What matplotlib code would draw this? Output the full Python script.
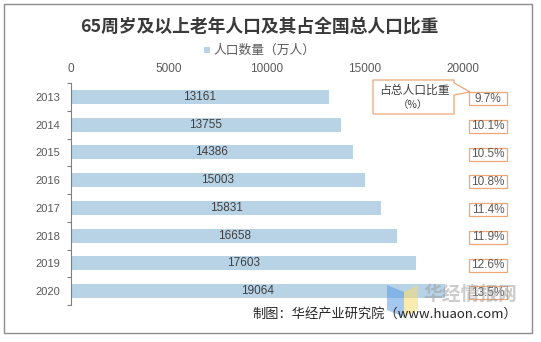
import matplotlib
matplotlib.use("Agg")
import matplotlib.pyplot as plt
from matplotlib.patches import Rectangle, Polygon
from matplotlib.transforms import blended_transform_factory

plt.rcParams['font.family'] = ['Noto Sans CJK SC', 'DejaVu Sans']

years = ['2013', '2014', '2015', '2016', '2017', '2018', '2019', '2020']
population = [13161, 13755, 14386, 15003, 15831, 16658, 17603, 19064]
share = ['9.7%', '10.1%', '10.5%', '10.8%', '11.4%', '11.9%', '12.6%', '13.5%']
x_ticks = [0, 5000, 10000, 15000, 20000]

W, H = 541, 342
BAR = '#B7D3E5'
ORANGE = '#EDA777'
GRAY = '#595959'
NUM_FONT = ['Liberation Sans', 'DejaVu Sans']

fig = plt.figure(figsize=(W / 100, H / 100), dpi=100)


def fx(px):
    return px / W


def fy(py):
    return 1 - py / H


# outer frame
fig.patches.append(Rectangle((fx(4), fy(333)), fx(528), 329 / H, transform=fig.transFigure,
                             fill=False, edgecolor='#8C8C8C', lw=1.0))

ax = fig.add_axes([fx(71), fy(305), fx(443.5), 222 / H])
ypos = list(range(len(years)))
ax.barh(ypos, population, height=0.5, color=BAR)
ax.set_xlim(0, 22630)
ax.set_ylim(len(years) - 0.5, -0.5)

# x axis on top, labels only
ax.xaxis.tick_top()
ax.set_xticks(x_ticks)
ax.set_xticklabels([str(v) for v in x_ticks], fontsize=8.5, color=GRAY, family=NUM_FONT)
ax.tick_params(axis='x', length=0, pad=6)

# year labels centred on bars, tick marks between categories
ax.set_yticks(ypos)
ax.set_yticklabels(years, fontsize=8, color=GRAY, family=NUM_FONT)
ax.tick_params(axis='y', which='major', length=0, pad=8)
ax.set_yticks([i - 0.5 for i in range(len(years) + 1)], minor=True)
ax.tick_params(axis='y', which='minor', length=3, color='#808080', width=0.8, direction='out')

for s in ['top', 'right', 'bottom']:
    ax.spines[s].set_visible(False)
ax.spines['left'].set_color('#808080')
ax.spines['left'].set_linewidth(0.8)

# values inside bars
for y, v in zip(ypos, population):
    ax.text(v / 2, y, str(v), ha='center', va='center', fontsize=8.5, color='#404040',
            family=NUM_FONT)

# boxed share labels
tr = blended_transform_factory(ax.transAxes, ax.transData)
bw = 38 / 443.5
bh = 0.47
for y, s in zip(ypos, share):
    ax.add_patch(Rectangle((0.94 - bw / 2, y + 0.06 - bh / 2), bw, bh, transform=tr,
                           facecolor='white', edgecolor=ORANGE, lw=0.9, clip_on=False, zorder=3))
    ax.text(0.94, y + 0.06, s, transform=tr, ha='center', va='center', fontsize=8.5,
            color=GRAY, family=NUM_FONT, zorder=4)

# callout naming the share series
pts = [(373, 80), (454, 80), (454, 83), (470, 92), (454, 95), (454, 114), (373, 114)]
fig.patches.append(Polygon([(fx(x), fy(y)) for x, y in pts], closed=True, transform=fig.transFigure,
                           facecolor='white', edgecolor=ORANGE, lw=0.9, zorder=5))
fig.text(fx(414), fy(90), '占总人口比重', ha='center', va='center', fontsize=8.5, color='#404040', zorder=6)
fig.text(fx(413), fy(105), '（%）', ha='center', va='center', fontsize=7.5, color='#404040', zorder=6)

# title and legend
fig.text(fx(259), fy(27), '65周岁及以上老年人口及其占全国总人口比重', ha='center', va='center',
         fontsize=12.8, fontweight='bold', color='#3A3A3A')
fig.patches.append(Rectangle((fx(204), fy(53)), fx(6), 6 / H, transform=fig.transFigure,
                             facecolor=BAR, edgecolor='none'))
fig.text(fx(213), fy(50), '人口数量（万人）', ha='left', va='center', fontsize=9.2, color=GRAY)

# watermark
fig.patches.append(Polygon([(fx(x), fy(y)) for x, y in [(387, 285), (404, 292), (404, 317), (387, 310)]],
                           closed=True, transform=fig.transFigure, facecolor='#5B9BE6', alpha=0.55,
                           edgecolor='none', zorder=7))
fig.patches.append(Polygon([(fx(x), fy(y)) for x, y in [(404, 292), (418, 285), (418, 310), (404, 317)]],
                           closed=True, transform=fig.transFigure, facecolor='#F7DC6F', alpha=0.55,
                           edgecolor='none', zorder=7))
fig.text(fx(423), fy(294), '华经情报网', ha='left', va='center', fontsize=13.5, fontweight='bold',
         color='#9A9A9A', alpha=0.5, zorder=7)

# source note
fig.text(fx(252), fy(314), '制图：华经产业研究院（www.huaon.com）', ha='left', va='center',
         fontsize=9.5, color='#262626', zorder=8)

fig.savefig('out.png', dpi=100)
